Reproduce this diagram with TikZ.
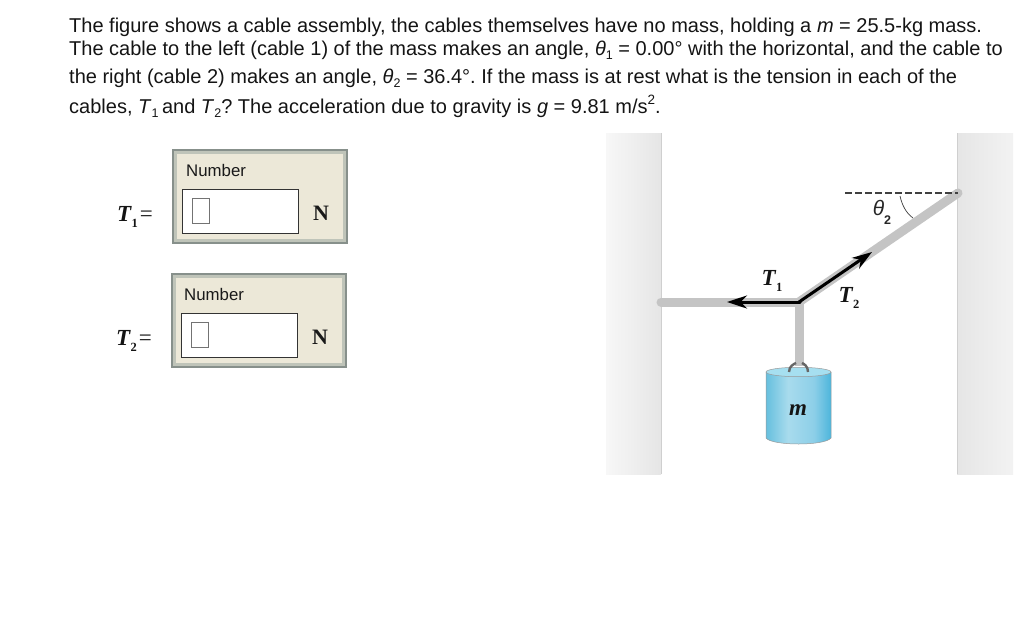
\documentclass[tikz,border=0pt]{standalone}
\usepackage{fontspec}
\setmainfont{Liberation Sans}
\newfontfamily\serifb{Liberation Serif}
\usetikzlibrary{arrows.meta}
\definecolor{wallline}{HTML}{CFCFCF}
\definecolor{cablegray}{HTML}{C4C4C4}
\definecolor{panel}{HTML}{ECE8D8}
\definecolor{frameout}{HTML}{87908B}
\definecolor{framein}{HTML}{BFC4B9}
\definecolor{buckettop}{HTML}{A6DFF0}
\pgfdeclarehorizontalshading{bucketshade}{100bp}{
  rgb(0bp)=(0.40,0.75,0.87);
  rgb(25bp)=(0.40,0.75,0.87);
  rgb(42bp)=(0.66,0.86,0.93);
  rgb(62bp)=(0.55,0.81,0.91);
  rgb(75bp)=(0.30,0.71,0.86);
  rgb(100bp)=(0.30,0.71,0.86)}
\newcommand{\lowsub}[1]{\raisebox{-0.2em}{\fontsize{12.5}{14}\selectfont #1}}
\newcommand{\upsup}[1]{\raisebox{0.42em}{\fontsize{13.5}{14}\selectfont #1}}
\newcommand{\labT}[1]{\textit{T}\kern0.5pt\raisebox{-0.3em}{\fontsize{12.5}{13}\selectfont\bfseries\upshape #1}}
\tikzset{
  prose/.style={anchor=base west,inner sep=0pt,font=\frenchspacing\fontsize{20}{22}\selectfont,text=black!92},
  lab/.style={inner sep=0pt,font=\serifb\bfseries\itshape\fontsize{23}{25}\selectfont,text=black!92},
  unitlab/.style={inner sep=0pt,font=\serifb\bfseries\fontsize{22}{24}\selectfont,text=black!90},
  numword/.style={anchor=west,inner sep=0pt,font=\fontsize{16.8}{18}\selectfont,text=black!90},
  outerbox/.style={rectangle,inner sep=0pt,draw=framein,line width=4pt,fill=panel,minimum width=170pt,minimum height=89pt},
  inputbox/.style={rectangle,inner sep=0pt,draw=black!80,line width=1pt,fill=white,minimum width=116pt,minimum height=44pt},
  cursorbox/.style={rectangle,inner sep=0pt,draw=black!55,line width=1pt,fill=white,minimum width=17pt,minimum height=25pt},
  cable/.style={draw=cablegray,line width=9pt},
  tensionline/.style={draw=black,line width=3pt,-{Stealth[length=20pt,width=13pt]}},
}
\begin{document}
\begin{tikzpicture}[x=1pt,y=-1pt]
\useasboundingbox (0,0) rectangle (1024,624);
% prose
\node[prose] (l1) at (69,32) {The figure shows a cable assembly, the cables themselves have no mass, holding a \textit{m} = 25.5-kg mass.};
\node[prose] (l2) at (69,55) {The cable to the left (cable 1) of the mass makes an angle, \textit{θ}\lowsub{1} = 0.00° with the horizontal, and the cable to};
\node[prose] (l3) at (69,83) {the right (cable 2) makes an angle, \textit{θ}\lowsub{2} = 36.4°. If the mass is at rest what is the tension in each of the};
\node[prose] (l4) at (69,113) {cables, \textit{T}\lowsub{1}\kern-2pt{} and \textit{T}\lowsub{2}? The acceleration due to gravity is \textit{g} = 9.81 m/s\upsup{2}.};
% answer box 1
\node[outerbox] (box1) at (260,196.5) {};
\draw[frameout,line width=2pt] (box1.north west) rectangle (box1.south east);
\node[numword] (num1) at (186,170) {Number};
\node[inputbox] (in1) at (240,211) {};
\node[cursorbox] (cur1) at (201,211) {};
\node[unitlab] (n1) at (321,213) {N};
\node[lab] (t1eq) at (135,217) {\labT{1}\kern2pt{\upshape\mdseries =}};
% answer box 2
\node[outerbox] (box2) at (258.5,320.5) {};
\draw[frameout,line width=2pt] (box2.north west) rectangle (box2.south east);
\node[numword] (num2) at (184,294) {Number};
\node[inputbox] (in2) at (239,335) {};
\node[cursorbox] (cur2) at (200,335) {};
\node[unitlab] (n2) at (320,337) {N};
\node[lab] (t2eq) at (134,341) {\labT{2}\kern2pt{\upshape\mdseries =}};
% walls
\shade[left color=black!3,right color=black!10] (606,133) rectangle (661,474);
\shade[left color=black!10,right color=black!5] (957,133) rectangle (1013,474);
\draw[wallline,line width=0.9pt] (661,133) -- (661,474);
\draw[wallline,line width=0.9pt] (957,133) -- (957,474);
% anchor points
\coordinate (junction) at (799,302);
\coordinate (leftend) at (661,302);
\coordinate (rightend) at (958,193);
\coordinate (hook) at (799,366);
\coordinate (dashstart) at (845,193);
\coordinate (tipone) at (727,302);
\coordinate (tiptwo) at (872,252);
% bucket
\shade[shading=bucketshade]
  (766,372) -- (766,438) .. controls (772,446) and (825,446) .. (831,438) -- (831,372) -- cycle;
\fill[buckettop] (798.5,372) ellipse (32.5 and 4.7);
\draw[black!40,line width=0.5pt] (766,372) -- (766,438) .. controls (772,446) and (825,446) .. (831,438) -- (831,372);
\draw[black!40,line width=0.5pt] (798.5,372) ellipse (32.5 and 4.7);
% cables
\draw[cable,line cap=round] (leftend) -- (junction);
\draw[cable,line cap=round] (rightend) -- (junction);
\draw[cable] (junction) -- (hook);
% hook
\draw[black!60,line width=2.4pt] (789,372) .. controls (789,366) and (794,364) .. (796,363);
\draw[black!60,line width=2.4pt] (808,372) .. controls (808,366) and (804,364) .. (802,363);
% dashed line and angle
\draw[black!75,line width=1.2pt,dash pattern=on 7pt off 3pt] (dashstart) -- (rightend);
\draw[black!75,line width=0.7pt] (900,196) .. controls (902,205) and (906,213) .. (913,218);
% tension arrows
\draw[tensionline] (junction) -- (tipone);
\draw[tensionline] (junction) -- (tiptwo);
\draw[black,line width=3pt,line cap=round] (junction) ++(-1,0) -- ++(2,0);
% labels
\node[lab] (tlab1) at (772,281) {\labT{1}};
\node[lab] (tlab2) at (849,298) {\labT{2}};
\node[inner sep=0pt,font=\fontsize{21}{23}\selectfont\itshape,text=black!85] (theta) at (882,212) {θ\raisebox{-0.42em}{\fontsize{12.5}{13}\selectfont\bfseries\upshape 2}};
\node[lab] (mlab) at (798,410) {m};
\end{tikzpicture}
\end{document}
